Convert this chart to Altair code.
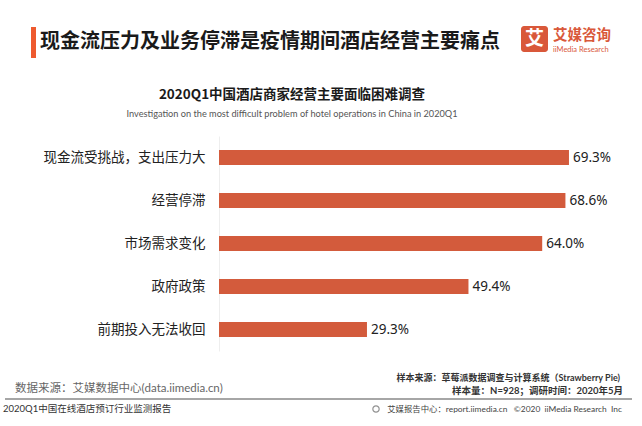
import altair as alt
import pandas as pd

categories = ["现金流受挑战，支出压力大", "经营停滞", "市场需求变化", "政府政策", "前期投入无法收回"]
values = [69.3, 68.6, 64.0, 49.4, 29.3]

title_text = "现金流压力及业务停滞是疫情期间酒店经营主要痛点"
subtitle_cn = "2020Q1中国酒店商家经营主要面临困难调查"
subtitle_en = "Investigation on the most difficult problem of hotel operations in China in 2020Q1"
sample_src = "样本来源：草莓派数据调查与计算系统（Strawberry Pie)"
sample_n = "样本量：N=928；调研时间：2020年5月"
data_src = "数据来源：艾媒数据中心(data.iimedia.cn)"
footer_left = "2020Q1中国在线酒店预订行业监测报告"
footer_right = "艾媒报告中心：report.iimedia.cn\u00a0\u00a0\u00a0©2020\u00a0\u00a0iiMedia Research\u00a0\u00a0Inc"

df = pd.DataFrame({"category": categories, "value": values})

FONT = "Noto Sans CJK SC"
MIX = "Lato, 'Noto Sans CJK SC'"
LATIN = "Noto Sans"
BAR = "#D35B3C"

W, H = 404, 215
PL, PT = 219, 136

base = alt.Chart(df)

bars = base.mark_bar(size=15, color=BAR).encode(
    y=alt.Y("category:N", sort=categories,
            axis=alt.Axis(title=None, ticks=False, labelFontSize=13.5, labelColor="#222",
                          labelFont=FONT, labelPadding=14, domainColor="#eeeeee",
                          domainWidth=1, grid=False)),
    x=alt.X("value:Q", scale=alt.Scale(domain=[0, 80], nice=False), axis=None),
)

labels = base.transform_calculate(
    label="format(datum.value, '.1f') + '%'"
).mark_text(align="left", baseline="middle", dx=4, fontSize=13.5, font=LATIN, color="#222").encode(
    y=alt.Y("category:N", sort=categories),
    x=alt.X("value:Q"),
    text="label:N",
)

one = pd.DataFrame({"k": [0]})


def txt(t, x, y, size, color="#222", align="left", weight="normal", font=FONT):
    return alt.Chart(one).mark_text(
        text=t, align=align, baseline="middle", fontSize=size, color=color,
        fontWeight=weight, font=font
    ).encode(x=alt.value(x - PL), y=alt.value(y - PT))


def rect(x1, x2, y1, y2, color, radius=0):
    return alt.Chart(one).mark_rect(color=color, cornerRadius=radius).encode(
        x=alt.value(x1 - PL), x2=alt.value(x2 - PL), y=alt.value(y1 - PT), y2=alt.value(y2 - PT))


accent = rect(31, 36, 27, 58, "#EE5A2F")
title = txt(title_text, 40, 42, 20, "#1a1a1a", weight="bold")
logo_box = rect(521, 548, 26, 52, "#D9583A", radius=3)
logo_char = txt("艾", 534.5, 39, 19, "white", align="center", weight="bold")
logo_name = txt("艾媒咨询", 553, 36, 14.5, "#D9583A", weight="bold")
logo_en = txt("iiMedia Research", 553, 50, 7.5, "#D9583A", font="Lato")

sub1 = txt(subtitle_cn, 292, 95, 13.5, "#1a1a1a", align="center", weight="bold")
sub2 = txt(subtitle_en, 292, 114, 9.2, "#555", align="center", font="Lato")

s_src = txt(sample_src, 620, 378, 9, "#333", align="right", weight="bold", font=MIX)
s_n = txt(sample_n, 623, 391, 9.5, "#333", align="right", weight="bold", font=MIX)
d_src = txt(data_src, 15, 389, 11.5, "#666", font=MIX)

line = alt.Chart(one).mark_rule(color="#888", strokeWidth=1.5).encode(
    x=alt.value(5 - PL), x2=alt.value(632 - PL), y=alt.value(399 - PT))

f_left = txt(footer_left, 3, 409, 9.5, "#333", font=MIX)
f_right = txt(footer_right, 622, 409, 8.4, "#444", align="right", font=MIX)
icon = alt.Chart(one).mark_point(shape="circle", size=40, color="#666", strokeWidth=1.2).encode(
    x=alt.value(376 - PL), y=alt.value(409 - PT))

chart = alt.layer(
    bars, labels, accent, title, logo_box, logo_char, logo_name, logo_en,
    sub1, sub2, s_src, s_n, d_src, line, f_left, f_right, icon
).properties(
    width=W, height=H,
    autosize=alt.AutoSizeParams(type="none"),
    padding={"left": PL, "top": PT, "right": 642 - PL - W, "bottom": 426 - PT - H},
    background="white",
).configure_view(stroke=None)

chart.save("out.html", embed_options={"renderer": "svg", "actions": False})
